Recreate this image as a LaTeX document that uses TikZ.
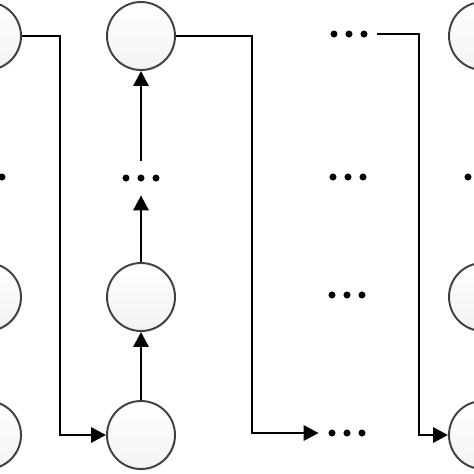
\documentclass[tikz,border=0pt]{standalone}
\usetikzlibrary{arrows.meta,shadows}
\tikzset{
	cell/.style={circle,draw=black!75,line width=1.1pt,minimum size=1.36cm,inner sep=0pt,
		top color=white,bottom color=black!5,
		drop shadow={shadow xshift=.6pt,shadow yshift=-.8pt,opacity=.15}},
	gap/.style={minimum width=1.12cm,minimum height=.68cm,inner sep=0pt},
	flow/.style={line width=1.7pt,-{Triangle[length=8.5pt,width=8.5pt]}}
}
\newcommand\threedots[1]{\fill(#1)++(-15,0)circle(2pt)++(15,0)circle(2pt)++(15,0)circle(2pt);}
\begin{document}
\begin{tikzpicture}[x=.02cm,y=-.02cm]
		\useasboundingbox(0,0)rectangle(474,474);
		% columns of cells
		\node[cell](c11)at(-13,36){};
		\node[gap](d12)at(-13,177){};
		\node[cell](c13)at(-13,297){};
		\node[cell](c14)at(-13,435){};
		\node[cell](c21)at(141,36){};
		\node[gap](d22)at(141,178){};
		\node[cell](c23)at(141,297){};
		\node[cell](c24)at(141,435){};
		\node[gap](d31)at(349,34){};
		\node[gap](d32)at(348,177){};
		\node[gap](d33)at(347,295){};
		\node[gap](d34)at(347,433){};
		\node[cell](c41)at(483,36){};
		\node[gap](d42)at(483,177){};
		\node[cell](c43)at(483,297){};
		\node[cell](c44)at(483,435){};
		\foreach \d in {d12,d22,d31,d32,d33,d34,d42}{\threedots{\d}}
		% turning points
		\coordinate(t1)at(60,200);
		\coordinate(t2)at(252,200);
		\coordinate(t3)at(419,200);
		% connectors
		\draw[flow](c11.east)-|(t1)|-(c24.west);
		\draw[flow](c24.north)--(c23.south);
		\draw[flow](c23.north)--(d22.south);
		\draw[flow](d22.north)--(c21.south);
		\draw[flow](c21.east)-|(t2)|-(d34.west);
		\draw[flow](d31.east)-|(t3)|-(c44.west);
	\end{tikzpicture}
\end{document}
